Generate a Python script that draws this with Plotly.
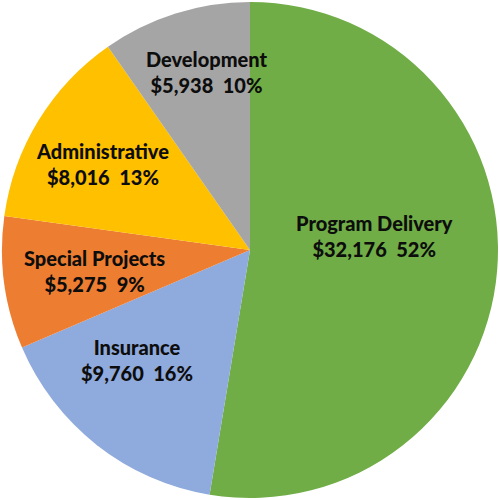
import plotly.graph_objects as go

labels = ["Program Delivery", "Insurance", "Special Projects", "Administrative", "Development"]
values = [32176, 9760, 5275, 8016, 5938]
pct_labels = ["52%", "16%", "9%", "13%", "10%"]
colors = ["#70AD47", "#8FAADC", "#ED7D31", "#FFC000", "#A5A5A5"]

# label centres in window pixels (Excel-style hand-placed data labels)
label_px = [(374, 236), (137, 360), (94, 271), (102, 164), (206, 72)]

fig = go.Figure(go.Pie(
    labels=labels,
    values=values,
    sort=False,
    direction="clockwise",
    rotation=0,
    marker=dict(colors=colors, line=dict(width=0)),
    textinfo="none",
    hoverinfo="label+value+percent",
))

M = 2
W = 500
span = W - 2 * M
for lab, val, pct, (px, py) in zip(labels, values, pct_labels, label_px):
    fig.add_annotation(
        x=(px - M) / span, y=1 - (py - M) / span,
        xref="paper", yref="paper",
        text=f"{lab}<br>${val:,}  {pct}",
        showarrow=False, align="center",
        xanchor="center", yanchor="middle",
        font=dict(family="Lato", size=20, color="#0d0d0d", weight=900),
    )

fig.update_layout(
    width=W, height=W,
    margin=dict(l=M, r=M, t=M, b=M),
    showlegend=False,
    paper_bgcolor="white",
)

# drop the browser's default body margin so the 500px figure fills the window
fig.write_html("out.html", config={"displayModeBar": False},
               post_script="document.body.style.margin='0';")
